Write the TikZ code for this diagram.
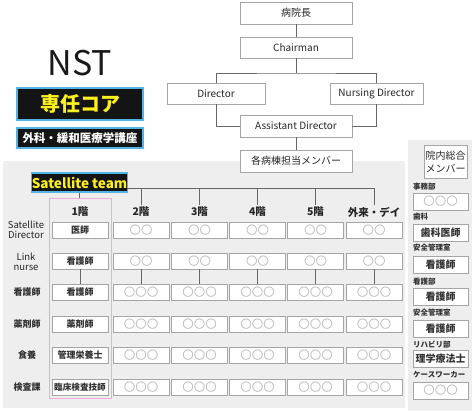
\documentclass[tikz,border=0pt]{standalone}
\usepackage{fontspec}
\setmainfont{Noto Sans CJK JP}
\definecolor{cyanb}{RGB}{80,180,230}
\definecolor{pinkb}{RGB}{240,170,225}
\definecolor{panel}{RGB}{238,238,238}
\definecolor{ylw}{RGB}{250,240,30}
\definecolor{bord}{RGB}{165,165,165}
\tikzset{
  orgbox/.style={draw=bord, fill=white, minimum height=21pt, inner sep=0pt, font=\fontsize{10}{12}\selectfont, text=black!85},
  cell/.style={draw=bord, fill=white, minimum width=56pt, minimum height=16pt, inner sep=0pt, font=\bfseries\fontsize{9}{11}\selectfont, text=black!80},
  circ/.style={draw=bord, fill=white, minimum width=56pt, minimum height=16pt, inner sep=0pt, font=\fontsize{11.5}{12}\selectfont, text=gray!55},
  darkbox/.style={draw=cyanb, line width=1.2pt, fill=black!92, inner sep=0pt},
  conn/.style={draw=black!60, line width=0.6pt},
  hdr/.style={font=\bfseries\fontsize{10.5}{12}\selectfont, text=black!85, inner sep=2pt},
  rowlab/.style={font=\fontsize{9.5}{10}\selectfont, text=black!85, align=center, inner sep=0pt},
  rowlabj/.style={font=\bfseries\fontsize{9}{10}\selectfont, text=black!80, inner sep=0pt},
  rlabel/.style={font=\bfseries\fontsize{7.5}{9}\selectfont, text=black!80, anchor=west, inner sep=0pt},
  rbox/.style={draw=bord, fill=white, minimum width=55pt, minimum height=17pt, inner sep=0pt, font=\bfseries\fontsize{10}{12}\selectfont, text=black!80}
}
\begin{document}
\begin{tikzpicture}[x=1pt,y=-1pt]
\useasboundingbox (0,0) rectangle (474,413);
% panels
\fill[panel] (3,161) rectangle (405,408);
\fill[panel] (408,140) rectangle (472,411);
% org chart top
\node[orgbox, minimum width=112pt, minimum height=22pt] (hosp) at (296,13) {病院長};
\node[orgbox, minimum width=112pt] (chair) at (296,47.5) {Chairman};
\node[orgbox, minimum width=98pt] (dir) at (216,93.5) {Director};
\node[orgbox, minimum width=93pt] (nurs) at (376.5,93.5) {Nursing Director};
\node[orgbox, minimum width=112pt, minimum height=22pt] (asst) at (296,126) {Assistant Director};
\node[orgbox, minimum width=112pt, minimum height=22pt] (mem) at (296,161) {各病棟担当メンバー};
\coordinate (split) at (296,73);
\draw[conn] (hosp) -- (chair);
\draw[conn] (chair) -- (split);
\draw[conn] (dir.north) |- (split) -| (nurs.north);
\draw[conn] (dir.south) |- (asst.west);
\draw[conn] (nurs.south) |- (asst.east);
\draw[conn] (asst) -- (mem);
\node[orgbox, minimum width=43pt, minimum height=33pt, align=center, font=\fontsize{10}{13}\selectfont] (inmem) at (445.5,161.5) {院内総合\\メンバー};
% left title
\node[font=\fontsize{34}{36}\selectfont, text=black!90, inner sep=0pt] (nst) at (80,63) {NST};
\node[darkbox, minimum width=126pt, minimum height=32pt, text=ylw, font=\bfseries\fontsize{20}{22}\selectfont] (core) at (80,104) {専任コア};
\node[darkbox, minimum width=126pt, minimum height=20pt, text=white, font=\bfseries\fontsize{11.5}{13}\selectfont] (dept) at (80,138) {外科・緩和医療学講座};
% satellite team
\draw[pinkb, line width=0.8pt] (49,198) rectangle (111,398);
\node[darkbox, minimum width=95pt, minimum height=19pt, text=ylw, font=\bfseries\fontsize{13.5}{15}\selectfont] (sat) at (79.5,182.5) {Satellite team};
\coordinate (busL) at (127,188);
\foreach \c/\x/\h in {1/80/1階,2/141/2階,3/199.5/3階,4/257.5/4階,5/315.5/5階,6/374/外来・デイ}{
  \node[hdr] (h\c) at (\x,212) {\h};
  \coordinate (bt\c) at (\x,188);
}
\draw[conn] (sat.south) -- (sat.south |- 0,198);
\draw[conn] (busL) -- (bt6);
\foreach \c in {2,...,6}{ \draw[conn] (bt\c) -- (h\c.north); }
% row labels
\node[rowlab] (rl1) at (26,230) {Satellite\\Director};
\node[rowlab] (rl2) at (26,262) {Link\\nurse};
\node[rowlabj] (rl3) at (27,292) {看護師};
\node[rowlabj] (rl4) at (27,324.5) {薬剤師};
\node[rowlabj] (rl5) at (27,355.5) {食養};
\node[rowlabj] (rl6) at (27,387) {検査課};
% column 1
\node[cell] (n1-1) at (80,230) {医師};
\node[cell] (n1-2) at (80,261) {看護師};
\node[cell] (n1-3) at (80,292) {看護師};
\node[cell] (n1-4) at (80,324.5) {薬剤師};
\node[cell] (n1-5) at (80,355.5) {管理栄養士};
\node[cell, font=\bfseries\fontsize{8.6}{11}\selectfont] (n1-6) at (80,387) {臨床検査技師};
\foreach \c/\x in {2/141,3/199.5,4/257.5,5/315.5,6/374}{
  \node[circ] (n\c-1) at (\x,230) {〇〇};
  \node[circ] (n\c-2) at (\x,261) {〇〇};
  \node[circ] (n\c-3) at (\x,292) {〇〇〇};
  \node[circ] (n\c-4) at (\x,324.5) {〇〇〇};
  \node[circ] (n\c-5) at (\x,355.5) {〇〇〇};
  \node[circ] (n\c-6) at (\x,387) {〇〇〇};
}
\foreach \c in {1,...,6}{ \draw[conn] (n\c-2.south) -- (n\c-3.north); }
% right panel
\node[rlabel] (l1) at (413,187) {事務部};
\node[rbox, font=\fontsize{11.5}{12}\selectfont, text=gray!55] (b1) at (440.5,201.5) {〇〇〇};
\node[rlabel] (l2) at (413,217) {歯科};
\node[rbox] (b2) at (440.5,232.5) {歯科医師};
\node[rlabel] (l3) at (413,248) {安全管理室};
\node[rbox] (b3) at (440.5,264.5) {看護師};
\node[rlabel] (l4) at (413,282) {看護部};
\node[rbox] (b4) at (440.5,296.5) {看護師};
\node[rlabel] (l5) at (413,313) {安全管理室};
\node[rbox] (b5) at (440.5,328.5) {看護師};
\node[rlabel] (l6) at (413,345) {リハビリ部};
\node[rbox] (b6) at (440.5,359) {理学療法士};
\node[rlabel] (l7) at (413,375) {ケースワーカー};
\node[rbox, font=\fontsize{11.5}{12}\selectfont, text=gray!55] (b7) at (440.5,390.5) {〇〇〇};
\end{tikzpicture}
\end{document}
